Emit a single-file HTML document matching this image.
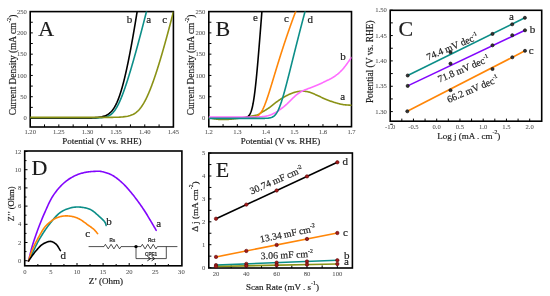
<!DOCTYPE html>
<html><head><meta charset="utf-8"><style>
html,body{margin:0;padding:0;background:#fff;}
body{width:550px;height:296px;overflow:hidden;}
svg{display:block;will-change:transform;font-family:"Liberation Serif", serif;}
</style></head><body>
<svg width="550" height="296" viewBox="0 0 550 296">
<rect width="550" height="296" fill="#fff"/>
<clipPath id="ca"><rect x="30.2" y="11.6" width="143.20000000000002" height="115.4"/></clipPath>
<rect x="30.2" y="11.6" width="143.20000000000002" height="115.4" fill="none" stroke="#000" stroke-width="1.6"/>
<line x1="44.52" y1="127.00" x2="44.52" y2="124.40" stroke="#000" stroke-width="1.0" stroke-linecap="butt"/>
<line x1="58.84" y1="127.00" x2="58.84" y2="124.40" stroke="#000" stroke-width="1.0" stroke-linecap="butt"/>
<line x1="73.16" y1="127.00" x2="73.16" y2="124.40" stroke="#000" stroke-width="1.0" stroke-linecap="butt"/>
<line x1="87.48" y1="127.00" x2="87.48" y2="124.40" stroke="#000" stroke-width="1.0" stroke-linecap="butt"/>
<line x1="101.80" y1="127.00" x2="101.80" y2="124.40" stroke="#000" stroke-width="1.0" stroke-linecap="butt"/>
<line x1="116.12" y1="127.00" x2="116.12" y2="124.40" stroke="#000" stroke-width="1.0" stroke-linecap="butt"/>
<line x1="130.44" y1="127.00" x2="130.44" y2="124.40" stroke="#000" stroke-width="1.0" stroke-linecap="butt"/>
<line x1="144.76" y1="127.00" x2="144.76" y2="124.40" stroke="#000" stroke-width="1.0" stroke-linecap="butt"/>
<line x1="159.08" y1="127.00" x2="159.08" y2="124.40" stroke="#000" stroke-width="1.0" stroke-linecap="butt"/>
<line x1="30.20" y1="118.00" x2="32.80" y2="118.00" stroke="#000" stroke-width="1.0" stroke-linecap="butt"/>
<line x1="30.20" y1="107.36" x2="32.80" y2="107.36" stroke="#000" stroke-width="1.0" stroke-linecap="butt"/>
<line x1="30.20" y1="96.72" x2="32.80" y2="96.72" stroke="#000" stroke-width="1.0" stroke-linecap="butt"/>
<line x1="30.20" y1="86.08" x2="32.80" y2="86.08" stroke="#000" stroke-width="1.0" stroke-linecap="butt"/>
<line x1="30.20" y1="75.44" x2="32.80" y2="75.44" stroke="#000" stroke-width="1.0" stroke-linecap="butt"/>
<line x1="30.20" y1="64.80" x2="32.80" y2="64.80" stroke="#000" stroke-width="1.0" stroke-linecap="butt"/>
<line x1="30.20" y1="54.16" x2="32.80" y2="54.16" stroke="#000" stroke-width="1.0" stroke-linecap="butt"/>
<line x1="30.20" y1="43.52" x2="32.80" y2="43.52" stroke="#000" stroke-width="1.0" stroke-linecap="butt"/>
<line x1="30.20" y1="32.88" x2="32.80" y2="32.88" stroke="#000" stroke-width="1.0" stroke-linecap="butt"/>
<line x1="30.20" y1="22.24" x2="32.80" y2="22.24" stroke="#000" stroke-width="1.0" stroke-linecap="butt"/>
<text x="30.20" y="134.20" font-size="6.6" text-anchor="middle" fill="#505050" stroke="#505050" stroke-width="0.05">1.20</text>
<text x="58.84" y="134.20" font-size="6.6" text-anchor="middle" fill="#505050" stroke="#505050" stroke-width="0.05">1.25</text>
<text x="87.48" y="134.20" font-size="6.6" text-anchor="middle" fill="#505050" stroke="#505050" stroke-width="0.05">1.30</text>
<text x="116.12" y="134.20" font-size="6.6" text-anchor="middle" fill="#505050" stroke="#505050" stroke-width="0.05">1.35</text>
<text x="144.76" y="134.20" font-size="6.6" text-anchor="middle" fill="#505050" stroke="#505050" stroke-width="0.05">1.40</text>
<text x="173.40" y="134.20" font-size="6.6" text-anchor="middle" fill="#505050" stroke="#505050" stroke-width="0.05">1.45</text>
<text x="26.80" y="120.10" font-size="6.6" text-anchor="end" fill="#505050" stroke="#505050" stroke-width="0.05">0</text>
<text x="26.80" y="98.82" font-size="6.6" text-anchor="end" fill="#505050" stroke="#505050" stroke-width="0.05">50</text>
<text x="26.80" y="77.54" font-size="6.6" text-anchor="end" fill="#505050" stroke="#505050" stroke-width="0.05">100</text>
<text x="26.80" y="56.26" font-size="6.6" text-anchor="end" fill="#505050" stroke="#505050" stroke-width="0.05">150</text>
<text x="26.80" y="34.98" font-size="6.6" text-anchor="end" fill="#505050" stroke="#505050" stroke-width="0.05">200</text>
<text x="26.80" y="13.70" font-size="6.6" text-anchor="end" fill="#505050" stroke="#505050" stroke-width="0.05">250</text>
<text x="101.80" y="143.70" font-size="9" text-anchor="middle" fill="#1c1c1c" stroke="#1c1c1c" stroke-width="0.18">Potential (V vs. RHE)</text>
<text transform="translate(15.50,65.00) rotate(-90)" font-size="9.35" text-anchor="middle" fill="#1c1c1c" stroke="#1c1c1c" stroke-width="0.18">Current Density (mA cm<tspan dy="-5.0" font-size="5.8">-2</tspan><tspan dy="5.0">)</tspan></text>
<text x="38.20" y="35.90" font-size="22" text-anchor="start" fill="#1c1c1c" stroke="#1c1c1c" stroke-width="0.18">A</text>
<path d="M28.20,118.00 L61.29,118.00 L62.35,118.00 L63.41,118.00 L64.47,118.00 L65.53,118.00 L66.60,118.00 L67.66,118.00 L68.72,118.00 L69.78,118.00 L70.84,118.00 L71.90,118.00 L72.97,118.00 L74.03,118.00 L75.09,118.00 L76.15,118.00 L77.21,118.00 L78.27,118.00 L79.34,118.00 L80.40,118.00 L81.46,118.00 L82.52,118.00 L83.58,118.00 L84.65,118.00 L85.71,117.99 L86.77,117.99 L87.83,117.99 L88.89,117.99 L89.96,117.98 L91.02,117.98 L92.08,117.97 L93.15,117.96 L94.21,117.95 L95.28,117.93 L96.34,117.91 L97.41,117.88 L98.48,117.84 L99.56,117.78 L100.63,117.71 L101.72,117.62 L102.80,117.50 L106.25,116.82 L108.14,116.14 L109.48,115.45 L110.54,114.77 L111.42,114.09 L112.19,113.41 L112.87,112.72 L113.48,112.04 L114.04,111.36 L114.57,110.68 L115.06,109.99 L115.52,109.31 L115.96,108.63 L116.38,107.95 L116.78,107.26 L117.16,106.58 L117.53,105.90 L117.89,105.22 L118.24,104.53 L118.58,103.85 L118.91,103.17 L119.23,102.49 L119.54,101.81 L119.85,101.12 L120.15,100.44 L120.45,99.76 L120.74,99.08 L121.02,98.39 L121.30,97.71 L121.58,97.03 L121.85,96.35 L122.12,95.66 L122.38,94.98 L122.64,94.30 L122.90,93.62 L123.15,92.93 L123.41,92.25 L123.66,91.57 L123.90,90.89 L124.15,90.20 L124.39,89.52 L124.63,88.84 L124.87,88.16 L125.10,87.47 L125.34,86.79 L125.57,86.11 L125.80,85.43 L126.03,84.75 L126.25,84.06 L126.48,83.38 L126.70,82.70 L126.92,82.02 L127.15,81.33 L127.37,80.65 L127.58,79.97 L127.80,79.29 L128.02,78.60 L128.23,77.92 L128.45,77.24 L128.66,76.56 L128.87,75.87 L129.08,75.19 L129.29,74.51 L129.50,73.83 L129.71,73.14 L129.91,72.46 L130.12,71.78 L130.33,71.10 L130.53,70.42 L130.73,69.73 L130.94,69.05 L131.14,68.37 L131.34,67.69 L131.54,67.00 L131.74,66.32 L131.94,65.64 L132.14,64.96 L132.34,64.27 L132.53,63.59 L132.73,62.91 L132.93,62.23 L133.12,61.54 L133.32,60.86 L133.51,60.18 L133.71,59.50 L133.90,58.81 L134.09,58.13 L134.29,57.45 L134.48,56.77 L134.67,56.08 L134.86,55.40 L135.05,54.72 L135.24,54.04 L135.43,53.36 L135.62,52.67 L135.81,51.99 L136.00,51.31 L136.19,50.63 L136.37,49.94 L136.56,49.26 L136.75,48.58 L136.93,47.90 L137.12,47.21 L137.31,46.53 L137.49,45.85 L137.68,45.17 L137.86,44.48 L138.05,43.80 L138.23,43.12 L138.42,42.44 L138.60,41.75 L138.78,41.07 L138.96,40.39 L139.15,39.71 L139.33,39.03 L139.51,38.34 L139.69,37.66 L139.88,36.98 L140.06,36.30 L140.24,35.61 L140.42,34.93 L140.60,34.25 L140.78,33.57 L140.96,32.88 L141.14,32.20 L141.32,31.52 L141.50,30.84 L141.68,30.15 L141.86,29.47 L142.03,28.79 L142.21,28.11 L142.39,27.42 L142.57,26.74 L142.75,26.06 L142.92,25.38 L143.10,24.69 L143.28,24.01 L143.45,23.33 L143.63,22.65 L143.81,21.97 L143.98,21.28 L144.16,20.60 L144.34,19.92 L144.51,19.24 L144.69,18.55 L144.86,17.87 L145.04,17.19 L145.21,16.51 L145.39,15.82 L145.56,15.14 L145.74,14.46 L145.91,13.78 L146.08,13.09 L146.26,12.41 L146.43,11.73 L146.61,11.05 L146.78,10.36 L146.95,9.68 L147.13,9.00" fill="none" stroke="#0c8e88" stroke-width="1.6" stroke-linejoin="round" clip-path="url(#ca)"/>
<path d="M28.20,118.00 L40.57,118.00 L42.02,118.00 L43.47,118.00 L44.93,118.00 L46.38,118.00 L47.83,118.00 L49.28,118.00 L50.73,118.00 L52.19,118.00 L53.64,118.00 L55.09,118.00 L56.54,118.00 L57.99,118.00 L59.45,118.00 L60.90,118.00 L62.35,118.00 L63.80,118.00 L65.25,118.00 L66.71,118.00 L68.16,118.00 L69.61,118.00 L71.06,118.00 L72.51,118.00 L73.97,117.99 L75.42,117.99 L76.87,117.99 L78.32,117.99 L79.78,117.98 L81.23,117.98 L82.68,117.97 L84.13,117.96 L85.59,117.95 L87.04,117.93 L88.50,117.91 L89.95,117.88 L91.41,117.84 L92.86,117.78 L94.32,117.71 L95.79,117.62 L97.25,117.50 L101.83,116.82 L104.29,116.14 L106.00,115.45 L107.32,114.77 L108.40,114.09 L109.32,113.41 L110.12,112.72 L110.83,112.04 L111.47,111.36 L112.06,110.68 L112.61,109.99 L113.11,109.31 L113.58,108.63 L114.03,107.95 L114.45,107.26 L114.84,106.58 L115.22,105.90 L115.59,105.22 L115.94,104.53 L116.27,103.85 L116.59,103.17 L116.91,102.49 L117.21,101.81 L117.50,101.12 L117.78,100.44 L118.06,99.76 L118.33,99.08 L118.59,98.39 L118.84,97.71 L119.09,97.03 L119.34,96.35 L119.58,95.66 L119.81,94.98 L120.04,94.30 L120.26,93.62 L120.48,92.93 L120.70,92.25 L120.91,91.57 L121.12,90.89 L121.33,90.20 L121.53,89.52 L121.73,88.84 L121.93,88.16 L122.13,87.47 L122.32,86.79 L122.51,86.11 L122.69,85.43 L122.88,84.75 L123.06,84.06 L123.24,83.38 L123.42,82.70 L123.60,82.02 L123.77,81.33 L123.94,80.65 L124.11,79.97 L124.28,79.29 L124.45,78.60 L124.62,77.92 L124.78,77.24 L124.95,76.56 L125.11,75.87 L125.27,75.19 L125.43,74.51 L125.58,73.83 L125.74,73.14 L125.90,72.46 L126.05,71.78 L126.20,71.10 L126.35,70.42 L126.51,69.73 L126.66,69.05 L126.80,68.37 L126.95,67.69 L127.10,67.00 L127.24,66.32 L127.39,65.64 L127.53,64.96 L127.68,64.27 L127.82,63.59 L127.96,62.91 L128.10,62.23 L128.24,61.54 L128.38,60.86 L128.52,60.18 L128.66,59.50 L128.79,58.81 L128.93,58.13 L129.06,57.45 L129.20,56.77 L129.33,56.08 L129.47,55.40 L129.60,54.72 L129.73,54.04 L129.86,53.36 L130.00,52.67 L130.13,51.99 L130.26,51.31 L130.39,50.63 L130.51,49.94 L130.64,49.26 L130.77,48.58 L130.90,47.90 L131.03,47.21 L131.15,46.53 L131.28,45.85 L131.40,45.17 L131.53,44.48 L131.65,43.80 L131.78,43.12 L131.90,42.44 L132.02,41.75 L132.15,41.07 L132.27,40.39 L132.39,39.71 L132.51,39.03 L132.63,38.34 L132.76,37.66 L132.88,36.98 L133.00,36.30 L133.12,35.61 L133.23,34.93 L133.35,34.25 L133.47,33.57 L133.59,32.88 L133.71,32.20 L133.83,31.52 L133.94,30.84 L134.06,30.15 L134.18,29.47 L134.29,28.79 L134.41,28.11 L134.53,27.42 L134.64,26.74 L134.76,26.06 L134.87,25.38 L134.99,24.69 L135.10,24.01 L135.22,23.33 L135.33,22.65 L135.44,21.97 L135.56,21.28 L135.67,20.60 L135.78,19.92 L135.89,19.24 L136.01,18.55 L136.12,17.87 L136.23,17.19 L136.34,16.51 L136.45,15.82 L136.56,15.14 L136.67,14.46 L136.79,13.78 L136.90,13.09 L137.01,12.41 L137.12,11.73 L137.23,11.05 L137.34,10.36 L137.44,9.68 L137.55,9.00" fill="none" stroke="#000" stroke-width="1.6" stroke-linejoin="round" clip-path="url(#ca)"/>
<path d="M28.20,117.40 L64.89,117.40 L66.38,117.40 L67.87,117.40 L69.35,117.40 L70.84,117.40 L72.32,117.40 L73.81,117.40 L75.30,117.40 L76.78,117.40 L78.27,117.40 L79.75,117.40 L81.24,117.40 L82.73,117.40 L84.21,117.40 L85.70,117.40 L87.18,117.40 L88.67,117.40 L90.16,117.40 L91.64,117.40 L93.13,117.40 L94.61,117.40 L96.10,117.40 L97.59,117.40 L99.07,117.39 L100.56,117.39 L102.05,117.39 L103.53,117.39 L105.02,117.38 L106.51,117.38 L107.99,117.37 L109.48,117.36 L110.97,117.35 L112.46,117.33 L113.95,117.31 L115.44,117.28 L116.94,117.24 L118.44,117.18 L119.94,117.11 L121.44,117.02 L122.95,116.90 L127.69,116.22 L130.26,115.54 L132.07,114.86 L133.48,114.19 L134.65,113.51 L135.65,112.83 L136.53,112.15 L137.32,111.47 L138.05,110.79 L138.71,110.11 L139.33,109.44 L139.91,108.76 L140.45,108.08 L140.97,107.40 L141.46,106.72 L141.93,106.04 L142.38,105.36 L142.82,104.68 L143.24,104.01 L143.64,103.33 L144.04,102.65 L144.42,101.97 L144.79,101.29 L145.15,100.61 L145.50,99.93 L145.85,99.26 L146.19,98.58 L146.52,97.90 L146.84,97.22 L147.16,96.54 L147.47,95.86 L147.78,95.18 L148.08,94.51 L148.38,93.83 L148.67,93.15 L148.96,92.47 L149.24,91.79 L149.52,91.11 L149.80,90.43 L150.08,89.76 L150.35,89.08 L150.61,88.40 L150.88,87.72 L151.14,87.04 L151.40,86.36 L151.66,85.68 L151.91,85.01 L152.16,84.33 L152.41,83.65 L152.66,82.97 L152.90,82.29 L153.15,81.61 L153.39,80.93 L153.63,80.25 L153.87,79.58 L154.10,78.90 L154.34,78.22 L154.57,77.54 L154.80,76.86 L155.03,76.18 L155.26,75.50 L155.49,74.83 L155.71,74.15 L155.94,73.47 L156.16,72.79 L156.38,72.11 L156.60,71.43 L156.82,70.75 L157.04,70.08 L157.25,69.40 L157.47,68.72 L157.69,68.04 L157.90,67.36 L158.11,66.68 L158.32,66.00 L158.54,65.33 L158.75,64.65 L158.95,63.97 L159.16,63.29 L159.37,62.61 L159.58,61.93 L159.78,61.25 L159.99,60.57 L160.19,59.90 L160.40,59.22 L160.60,58.54 L160.80,57.86 L161.00,57.18 L161.20,56.50 L161.40,55.82 L161.60,55.15 L161.80,54.47 L162.00,53.79 L162.20,53.11 L162.39,52.43 L162.59,51.75 L162.79,51.07 L162.98,50.40 L163.18,49.72 L163.37,49.04 L163.56,48.36 L163.76,47.68 L163.95,47.00 L164.14,46.32 L164.33,45.65 L164.53,44.97 L164.72,44.29 L164.91,43.61 L165.10,42.93 L165.29,42.25 L165.47,41.57 L165.66,40.89 L165.85,40.22 L166.04,39.54 L166.23,38.86 L166.41,38.18 L166.60,37.50 L166.79,36.82 L166.97,36.14 L167.16,35.47 L167.34,34.79 L167.53,34.11 L167.71,33.43 L167.89,32.75 L168.08,32.07 L168.26,31.39 L168.44,30.72 L168.63,30.04 L168.81,29.36 L168.99,28.68 L169.17,28.00 L169.35,27.32 L169.53,26.64 L169.72,25.97 L169.90,25.29 L170.08,24.61 L170.26,23.93 L170.44,23.25 L170.61,22.57 L170.79,21.89 L170.97,21.22 L171.15,20.54 L171.33,19.86 L171.51,19.18 L171.68,18.50 L171.86,17.82 L172.04,17.14 L172.22,16.46 L172.39,15.79 L172.57,15.11 L172.74,14.43 L172.92,13.75 L173.10,13.07 L173.27,12.39 L173.45,11.71 L173.62,11.04 L173.80,10.36 L173.97,9.68 L174.15,9.00" fill="none" stroke="#8a9216" stroke-width="1.6" stroke-linejoin="round" clip-path="url(#ca)"/>
<text x="126.80" y="22.90" font-size="11" text-anchor="start" fill="#1c1c1c" stroke="#1c1c1c" stroke-width="0.18">b</text>
<text x="146.30" y="23.20" font-size="11" text-anchor="start" fill="#1c1c1c" stroke="#1c1c1c" stroke-width="0.18">a</text>
<text x="162.30" y="23.20" font-size="11" text-anchor="start" fill="#1c1c1c" stroke="#1c1c1c" stroke-width="0.18">c</text>
<clipPath id="cb"><rect x="208.8" y="11.6" width="142.7" height="115.10000000000001"/></clipPath>
<rect x="208.8" y="11.6" width="142.7" height="115.10000000000001" fill="none" stroke="#000" stroke-width="1.6"/>
<line x1="223.07" y1="126.70" x2="223.07" y2="124.10" stroke="#000" stroke-width="1.0" stroke-linecap="butt"/>
<line x1="237.34" y1="126.70" x2="237.34" y2="124.10" stroke="#000" stroke-width="1.0" stroke-linecap="butt"/>
<line x1="251.61" y1="126.70" x2="251.61" y2="124.10" stroke="#000" stroke-width="1.0" stroke-linecap="butt"/>
<line x1="265.88" y1="126.70" x2="265.88" y2="124.10" stroke="#000" stroke-width="1.0" stroke-linecap="butt"/>
<line x1="280.15" y1="126.70" x2="280.15" y2="124.10" stroke="#000" stroke-width="1.0" stroke-linecap="butt"/>
<line x1="294.42" y1="126.70" x2="294.42" y2="124.10" stroke="#000" stroke-width="1.0" stroke-linecap="butt"/>
<line x1="308.69" y1="126.70" x2="308.69" y2="124.10" stroke="#000" stroke-width="1.0" stroke-linecap="butt"/>
<line x1="322.96" y1="126.70" x2="322.96" y2="124.10" stroke="#000" stroke-width="1.0" stroke-linecap="butt"/>
<line x1="337.23" y1="126.70" x2="337.23" y2="124.10" stroke="#000" stroke-width="1.0" stroke-linecap="butt"/>
<line x1="208.80" y1="118.00" x2="211.40" y2="118.00" stroke="#000" stroke-width="1.0" stroke-linecap="butt"/>
<line x1="208.80" y1="107.36" x2="211.40" y2="107.36" stroke="#000" stroke-width="1.0" stroke-linecap="butt"/>
<line x1="208.80" y1="96.72" x2="211.40" y2="96.72" stroke="#000" stroke-width="1.0" stroke-linecap="butt"/>
<line x1="208.80" y1="86.08" x2="211.40" y2="86.08" stroke="#000" stroke-width="1.0" stroke-linecap="butt"/>
<line x1="208.80" y1="75.44" x2="211.40" y2="75.44" stroke="#000" stroke-width="1.0" stroke-linecap="butt"/>
<line x1="208.80" y1="64.80" x2="211.40" y2="64.80" stroke="#000" stroke-width="1.0" stroke-linecap="butt"/>
<line x1="208.80" y1="54.16" x2="211.40" y2="54.16" stroke="#000" stroke-width="1.0" stroke-linecap="butt"/>
<line x1="208.80" y1="43.52" x2="211.40" y2="43.52" stroke="#000" stroke-width="1.0" stroke-linecap="butt"/>
<line x1="208.80" y1="32.88" x2="211.40" y2="32.88" stroke="#000" stroke-width="1.0" stroke-linecap="butt"/>
<line x1="208.80" y1="22.24" x2="211.40" y2="22.24" stroke="#000" stroke-width="1.0" stroke-linecap="butt"/>
<text x="208.80" y="134.20" font-size="6.6" text-anchor="middle" fill="#505050" stroke="#505050" stroke-width="0.05">1.2</text>
<text x="237.34" y="134.20" font-size="6.6" text-anchor="middle" fill="#505050" stroke="#505050" stroke-width="0.05">1.3</text>
<text x="265.88" y="134.20" font-size="6.6" text-anchor="middle" fill="#505050" stroke="#505050" stroke-width="0.05">1.4</text>
<text x="294.42" y="134.20" font-size="6.6" text-anchor="middle" fill="#505050" stroke="#505050" stroke-width="0.05">1.5</text>
<text x="322.96" y="134.20" font-size="6.6" text-anchor="middle" fill="#505050" stroke="#505050" stroke-width="0.05">1.6</text>
<text x="351.50" y="134.20" font-size="6.6" text-anchor="middle" fill="#505050" stroke="#505050" stroke-width="0.05">1.7</text>
<text x="205.40" y="120.10" font-size="6.6" text-anchor="end" fill="#505050" stroke="#505050" stroke-width="0.05">0</text>
<text x="205.40" y="98.82" font-size="6.6" text-anchor="end" fill="#505050" stroke="#505050" stroke-width="0.05">50</text>
<text x="205.40" y="77.54" font-size="6.6" text-anchor="end" fill="#505050" stroke="#505050" stroke-width="0.05">100</text>
<text x="205.40" y="56.26" font-size="6.6" text-anchor="end" fill="#505050" stroke="#505050" stroke-width="0.05">150</text>
<text x="205.40" y="34.98" font-size="6.6" text-anchor="end" fill="#505050" stroke="#505050" stroke-width="0.05">200</text>
<text x="205.40" y="13.70" font-size="6.6" text-anchor="end" fill="#505050" stroke="#505050" stroke-width="0.05">250</text>
<text x="280.50" y="143.70" font-size="9" text-anchor="middle" fill="#1c1c1c" stroke="#1c1c1c" stroke-width="0.18">Potential (V vs. RHE)</text>
<text transform="translate(194.30,65.00) rotate(-90)" font-size="9.35" text-anchor="middle" fill="#1c1c1c" stroke="#1c1c1c" stroke-width="0.18">Current Density (mA cm<tspan dy="-5.0" font-size="5.8">-2</tspan><tspan dy="5.0">)</tspan></text>
<text x="215.50" y="35.60" font-size="22" text-anchor="start" fill="#1c1c1c" stroke="#1c1c1c" stroke-width="0.18">B</text>
<path d="M208.80,117.60 L209.10,117.67 L209.39,117.75 L209.68,117.82 L209.97,117.89 L210.25,117.97 L210.54,118.04 L210.83,118.12 L211.12,118.19 L211.42,118.26 L211.72,118.33 L212.03,118.40 L212.34,118.47 L212.67,118.54 L213.00,118.60 L213.44,118.68 L213.90,118.76 L214.37,118.84 L214.85,118.92 L215.34,118.99 L215.85,119.07 L216.35,119.14 L216.87,119.20 L217.39,119.27 L217.91,119.33 L218.43,119.38 L218.96,119.43 L219.48,119.47 L220.00,119.50 L220.55,119.53 L221.11,119.55 L221.68,119.56 L222.25,119.57 L222.82,119.57 L223.39,119.57 L223.97,119.56 L224.54,119.55 L225.12,119.53 L225.70,119.51 L226.28,119.49 L226.85,119.46 L227.43,119.43 L228.00,119.40 L228.57,119.37 L229.15,119.32 L229.73,119.28 L230.30,119.23 L230.88,119.18 L231.46,119.12 L232.04,119.06 L232.61,119.00 L233.18,118.93 L233.76,118.87 L234.32,118.80 L234.89,118.73 L235.45,118.67 L236.00,118.60 L236.52,118.54 L237.03,118.47 L237.54,118.41 L238.04,118.34 L238.54,118.27 L239.04,118.20 L239.54,118.13 L240.04,118.06 L240.53,117.98 L241.03,117.91 L241.52,117.83 L242.01,117.76 L242.51,117.68 L243.00,117.60 L243.48,117.52 L243.96,117.44 L244.43,117.36 L244.91,117.28 L245.38,117.20 L245.85,117.12 L246.32,117.04 L246.79,116.95 L247.26,116.87 L247.74,116.78 L248.22,116.69 L248.71,116.59 L249.20,116.50 L249.70,116.40 L250.28,116.29 L250.89,116.17 L251.53,116.06 L252.18,115.94 L252.84,115.82 L253.51,115.70 L254.16,115.57 L254.81,115.44 L255.43,115.31 L256.03,115.18 L256.60,115.04 L257.12,114.90 L257.59,114.75 L258.00,114.60 L258.19,114.52 L258.36,114.45 L258.51,114.37 L258.65,114.30 L258.78,114.22 L258.90,114.14 L259.01,114.07 L259.13,113.99 L259.25,113.90 L259.37,113.81 L259.51,113.72 L259.65,113.62 L259.82,113.51 L260.00,113.40 L260.44,113.14 L260.93,112.84 L261.48,112.52 L262.07,112.17 L262.70,111.80 L263.35,111.42 L264.03,111.01 L264.73,110.59 L265.43,110.17 L266.13,109.74 L266.83,109.30 L267.51,108.86 L268.17,108.43 L268.80,108.00 L269.43,107.55 L270.06,107.09 L270.68,106.62 L271.30,106.14 L271.92,105.65 L272.54,105.15 L273.15,104.66 L273.77,104.16 L274.38,103.66 L275.00,103.17 L275.62,102.69 L276.24,102.21 L276.87,101.75 L277.50,101.30 L278.12,100.87 L278.74,100.45 L279.36,100.02 L279.98,99.60 L280.60,99.19 L281.23,98.78 L281.85,98.38 L282.48,97.98 L283.11,97.59 L283.75,97.21 L284.38,96.84 L285.02,96.48 L285.66,96.14 L286.30,95.80 L286.92,95.49 L287.54,95.18 L288.18,94.87 L288.81,94.58 L289.45,94.29 L290.09,94.01 L290.73,93.73 L291.37,93.47 L292.00,93.23 L292.63,92.99 L293.26,92.77 L293.88,92.56 L294.50,92.37 L295.10,92.20 L295.61,92.07 L296.12,91.94 L296.63,91.83 L297.13,91.72 L297.63,91.63 L298.12,91.55 L298.62,91.47 L299.11,91.41 L299.59,91.35 L300.08,91.31 L300.56,91.27 L301.04,91.24 L301.52,91.21 L302.00,91.20 L302.44,91.19 L302.87,91.19 L303.30,91.20 L303.72,91.21 L304.13,91.23 L304.55,91.26 L304.97,91.29 L305.38,91.33 L305.80,91.39 L306.23,91.45 L306.66,91.52 L307.10,91.60 L307.54,91.70 L308.00,91.80 L308.59,91.95 L309.20,92.13 L309.82,92.32 L310.45,92.54 L311.09,92.78 L311.74,93.02 L312.39,93.28 L313.04,93.55 L313.70,93.83 L314.35,94.10 L315.00,94.38 L315.64,94.66 L316.28,94.93 L316.90,95.20 L317.49,95.46 L318.08,95.72 L318.66,95.99 L319.24,96.27 L319.81,96.55 L320.38,96.83 L320.95,97.11 L321.52,97.39 L322.09,97.67 L322.66,97.95 L323.24,98.22 L323.82,98.49 L324.41,98.75 L325.00,99.00 L325.61,99.25 L326.23,99.50 L326.85,99.75 L327.48,99.99 L328.11,100.23 L328.75,100.47 L329.38,100.70 L330.01,100.93 L330.65,101.15 L331.28,101.37 L331.92,101.59 L332.55,101.80 L333.18,102.00 L333.80,102.20 L334.39,102.39 L334.97,102.57 L335.56,102.75 L336.13,102.93 L336.71,103.10 L337.29,103.27 L337.86,103.43 L338.44,103.59 L339.02,103.74 L339.61,103.89 L340.20,104.03 L340.79,104.16 L341.39,104.29 L342.00,104.40 L342.65,104.51 L343.31,104.61 L343.98,104.69 L344.65,104.76 L345.33,104.83 L346.01,104.89 L346.70,104.94 L347.39,104.99 L348.07,105.04 L348.76,105.09 L349.45,105.13 L350.14,105.18 L350.82,105.24 L351.50,105.30" fill="none" stroke="#8a9216" stroke-width="1.6" stroke-linejoin="round" stroke-linecap="round" clip-path="url(#cb)"/>
<path d="M206.80,118.20 L222.28,118.20 L222.87,118.20 L223.46,118.20 L224.05,118.20 L224.64,118.20 L225.23,118.20 L225.82,118.20 L226.41,118.20 L227.00,118.20 L227.59,118.20 L228.18,118.20 L228.77,118.20 L229.36,118.20 L229.95,118.20 L230.54,118.20 L231.13,118.20 L231.72,118.20 L232.31,118.20 L232.90,118.20 L233.49,118.20 L234.08,118.20 L234.67,118.20 L235.26,118.20 L235.85,118.19 L236.44,118.19 L237.04,118.19 L237.63,118.19 L238.22,118.18 L238.81,118.18 L239.40,118.17 L239.99,118.16 L240.58,118.15 L241.17,118.13 L241.76,118.11 L242.35,118.08 L242.94,118.04 L243.54,117.98 L244.13,117.91 L244.72,117.82 L245.32,117.70 L247.18,117.02 L248.17,116.33 L248.86,115.65 L249.40,114.97 L249.83,114.28 L250.20,113.60 L250.52,112.91 L250.81,112.23 L251.07,111.55 L251.30,110.86 L251.52,110.18 L251.72,109.50 L251.91,108.81 L252.09,108.13 L252.26,107.45 L252.42,106.76 L252.57,106.08 L252.71,105.39 L252.85,104.71 L252.99,104.03 L253.11,103.34 L253.24,102.66 L253.36,101.98 L253.48,101.29 L253.59,100.61 L253.70,99.93 L253.81,99.24 L253.91,98.56 L254.01,97.87 L254.11,97.19 L254.21,96.51 L254.31,95.82 L254.40,95.14 L254.49,94.46 L254.58,93.77 L254.67,93.09 L254.76,92.41 L254.84,91.72 L254.93,91.04 L255.01,90.35 L255.09,89.67 L255.17,88.99 L255.25,88.30 L255.33,87.62 L255.41,86.94 L255.48,86.25 L255.56,85.57 L255.64,84.88 L255.71,84.20 L255.78,83.52 L255.86,82.83 L255.93,82.15 L256.00,81.47 L256.07,80.78 L256.14,80.10 L256.21,79.42 L256.28,78.73 L256.35,78.05 L256.41,77.36 L256.48,76.68 L256.55,76.00 L256.61,75.31 L256.68,74.63 L256.74,73.95 L256.81,73.26 L256.87,72.58 L256.94,71.90 L257.00,71.21 L257.06,70.53 L257.13,69.84 L257.19,69.16 L257.25,68.48 L257.31,67.79 L257.38,67.11 L257.44,66.43 L257.50,65.74 L257.56,65.06 L257.62,64.38 L257.68,63.69 L257.74,63.01 L257.80,62.32 L257.86,61.64 L257.92,60.96 L257.98,60.27 L258.04,59.59 L258.09,58.91 L258.15,58.22 L258.21,57.54 L258.27,56.86 L258.33,56.17 L258.38,55.49 L258.44,54.80 L258.50,54.12 L258.56,53.44 L258.61,52.75 L258.67,52.07 L258.73,51.39 L258.78,50.70 L258.84,50.02 L258.90,49.34 L258.95,48.65 L259.01,47.97 L259.07,47.28 L259.12,46.60 L259.18,45.92 L259.23,45.23 L259.29,44.55 L259.34,43.87 L259.40,43.18 L259.45,42.50 L259.51,41.82 L259.56,41.13 L259.62,40.45 L259.67,39.76 L259.73,39.08 L259.78,38.40 L259.84,37.71 L259.89,37.03 L259.95,36.35 L260.00,35.66 L260.06,34.98 L260.11,34.29 L260.17,33.61 L260.22,32.93 L260.27,32.24 L260.33,31.56 L260.38,30.88 L260.44,30.19 L260.49,29.51 L260.54,28.83 L260.60,28.14 L260.65,27.46 L260.71,26.77 L260.76,26.09 L260.81,25.41 L260.87,24.72 L260.92,24.04 L260.98,23.36 L261.03,22.67 L261.08,21.99 L261.14,21.31 L261.19,20.62 L261.24,19.94 L261.30,19.25 L261.35,18.57 L261.40,17.89 L261.46,17.20 L261.51,16.52 L261.56,15.84 L261.62,15.15 L261.67,14.47 L261.72,13.79 L261.78,13.10 L261.83,12.42 L261.89,11.73 L261.94,11.05 L261.99,10.37 L262.05,9.68 L262.10,9.00" fill="none" stroke="#000" stroke-width="1.6" stroke-linejoin="round" clip-path="url(#cb)"/>
<path d="M206.80,118.20 L220.86,118.20 L221.68,118.20 L222.50,118.20 L223.32,118.20 L224.14,118.20 L224.96,118.20 L225.78,118.20 L226.60,118.20 L227.42,118.20 L228.24,118.20 L229.06,118.20 L229.88,118.20 L230.70,118.20 L231.52,118.20 L232.34,118.20 L233.16,118.20 L233.98,118.20 L234.80,118.20 L235.62,118.20 L236.44,118.20 L237.26,118.20 L238.08,118.20 L238.90,118.20 L239.72,118.19 L240.54,118.19 L241.36,118.19 L242.18,118.19 L243.00,118.18 L243.82,118.18 L244.65,118.17 L245.47,118.16 L246.29,118.15 L247.11,118.13 L247.94,118.11 L248.76,118.08 L249.59,118.04 L250.41,117.98 L251.25,117.91 L252.08,117.82 L252.92,117.70 L255.57,117.02 L257.03,116.33 L258.06,115.65 L258.87,114.97 L259.55,114.28 L260.14,113.60 L260.66,112.91 L261.13,112.23 L261.57,111.55 L261.97,110.86 L262.35,110.18 L262.71,109.50 L263.05,108.81 L263.38,108.13 L263.69,107.45 L263.99,106.76 L264.29,106.08 L264.57,105.39 L264.85,104.71 L265.12,104.03 L265.38,103.34 L265.64,102.66 L265.89,101.98 L266.14,101.29 L266.39,100.61 L266.63,99.93 L266.87,99.24 L267.10,98.56 L267.33,97.87 L267.56,97.19 L267.79,96.51 L268.02,95.82 L268.24,95.14 L268.46,94.46 L268.68,93.77 L268.90,93.09 L269.12,92.41 L269.34,91.72 L269.55,91.04 L269.77,90.35 L269.98,89.67 L270.19,88.99 L270.40,88.30 L270.61,87.62 L270.82,86.94 L271.03,86.25 L271.24,85.57 L271.45,84.88 L271.66,84.20 L271.87,83.52 L272.08,82.83 L272.28,82.15 L272.49,81.47 L272.70,80.78 L272.90,80.10 L273.11,79.42 L273.32,78.73 L273.52,78.05 L273.73,77.36 L273.94,76.68 L274.14,76.00 L274.35,75.31 L274.56,74.63 L274.77,73.95 L274.97,73.26 L275.18,72.58 L275.39,71.90 L275.60,71.21 L275.80,70.53 L276.01,69.84 L276.22,69.16 L276.43,68.48 L276.64,67.79 L276.85,67.11 L277.06,66.43 L277.27,65.74 L277.48,65.06 L277.69,64.38 L277.90,63.69 L278.11,63.01 L278.32,62.32 L278.53,61.64 L278.75,60.96 L278.96,60.27 L279.17,59.59 L279.39,58.91 L279.60,58.22 L279.82,57.54 L280.03,56.86 L280.25,56.17 L280.46,55.49 L280.68,54.80 L280.90,54.12 L281.12,53.44 L281.33,52.75 L281.55,52.07 L281.77,51.39 L281.99,50.70 L282.21,50.02 L282.43,49.34 L282.66,48.65 L282.88,47.97 L283.10,47.28 L283.32,46.60 L283.55,45.92 L283.77,45.23 L284.00,44.55 L284.22,43.87 L284.45,43.18 L284.68,42.50 L284.90,41.82 L285.13,41.13 L285.36,40.45 L285.59,39.76 L285.82,39.08 L286.05,38.40 L286.28,37.71 L286.51,37.03 L286.74,36.35 L286.98,35.66 L287.21,34.98 L287.45,34.29 L287.68,33.61 L287.92,32.93 L288.15,32.24 L288.39,31.56 L288.63,30.88 L288.87,30.19 L289.10,29.51 L289.34,28.83 L289.58,28.14 L289.83,27.46 L290.07,26.77 L290.31,26.09 L290.55,25.41 L290.80,24.72 L291.04,24.04 L291.29,23.36 L291.53,22.67 L291.78,21.99 L292.02,21.31 L292.27,20.62 L292.52,19.94 L292.77,19.25 L293.02,18.57 L293.27,17.89 L293.52,17.20 L293.78,16.52 L294.03,15.84 L294.28,15.15 L294.54,14.47 L294.79,13.79 L295.05,13.10 L295.30,12.42 L295.56,11.73 L295.82,11.05 L296.08,10.37 L296.34,9.68 L296.60,9.00" fill="none" stroke="#ff8608" stroke-width="1.6" stroke-linejoin="round" clip-path="url(#cb)"/>
<path d="M208.80,117.10 L211.80,117.10 L214.90,117.11 L218.08,117.12 L221.30,117.13 L224.54,117.14 L227.77,117.15 L230.96,117.16 L234.09,117.17 L237.13,117.17 L240.05,117.17 L242.82,117.16 L245.42,117.15 L247.83,117.13 L250.00,117.10 L251.07,117.08 L252.09,117.07 L253.06,117.05 L253.99,117.04 L254.88,117.03 L255.73,117.01 L256.56,116.99 L257.35,116.97 L258.13,116.94 L258.88,116.91 L259.62,116.87 L260.35,116.82 L261.08,116.77 L261.80,116.70 L262.34,116.65 L262.87,116.59 L263.38,116.53 L263.88,116.48 L264.37,116.42 L264.85,116.35 L265.32,116.28 L265.79,116.21 L266.25,116.12 L266.70,116.04 L267.16,115.94 L267.60,115.84 L268.05,115.72 L268.50,115.60 L268.92,115.48 L269.33,115.35 L269.73,115.21 L270.13,115.06 L270.52,114.91 L270.91,114.76 L271.30,114.59 L271.68,114.42 L272.07,114.25 L272.45,114.07 L272.83,113.88 L273.22,113.69 L273.61,113.50 L274.00,113.30 L274.43,113.08 L274.86,112.85 L275.29,112.61 L275.72,112.36 L276.15,112.11 L276.58,111.85 L277.00,111.59 L277.43,111.32 L277.86,111.04 L278.29,110.76 L278.72,110.48 L279.15,110.19 L279.57,109.90 L280.00,109.60 L280.46,109.28 L280.91,108.95 L281.37,108.61 L281.83,108.26 L282.29,107.91 L282.75,107.55 L283.21,107.19 L283.67,106.83 L284.12,106.46 L284.57,106.09 L285.01,105.72 L285.45,105.34 L285.88,104.97 L286.30,104.60 L286.70,104.25 L287.08,103.89 L287.46,103.53 L287.84,103.16 L288.21,102.80 L288.58,102.43 L288.94,102.06 L289.30,101.69 L289.67,101.32 L290.03,100.95 L290.39,100.59 L290.76,100.22 L291.13,99.86 L291.50,99.50 L291.87,99.14 L292.25,98.78 L292.62,98.42 L293.00,98.05 L293.37,97.68 L293.75,97.32 L294.12,96.96 L294.50,96.60 L294.88,96.25 L295.26,95.90 L295.64,95.56 L296.03,95.23 L296.41,94.91 L296.80,94.60 L297.16,94.32 L297.52,94.05 L297.88,93.78 L298.24,93.52 L298.60,93.27 L298.97,93.02 L299.33,92.78 L299.70,92.54 L300.07,92.30 L300.45,92.07 L300.83,91.85 L301.21,91.63 L301.60,91.41 L302.00,91.20 L302.42,90.98 L302.85,90.78 L303.27,90.58 L303.71,90.39 L304.14,90.21 L304.59,90.03 L305.03,89.85 L305.48,89.68 L305.94,89.50 L306.40,89.33 L306.87,89.15 L307.34,88.97 L307.82,88.79 L308.30,88.60 L308.87,88.37 L309.46,88.15 L310.06,87.92 L310.67,87.70 L311.29,87.47 L311.91,87.24 L312.54,87.00 L313.17,86.77 L313.80,86.53 L314.43,86.29 L315.06,86.05 L315.68,85.80 L316.29,85.55 L316.90,85.30 L317.49,85.05 L318.07,84.79 L318.66,84.53 L319.23,84.27 L319.81,84.01 L320.38,83.74 L320.96,83.47 L321.53,83.20 L322.10,82.92 L322.68,82.64 L323.25,82.36 L323.83,82.08 L324.41,81.79 L325.00,81.50 L325.62,81.20 L326.25,80.89 L326.88,80.59 L327.52,80.29 L328.16,79.98 L328.80,79.68 L329.44,79.36 L330.08,79.04 L330.71,78.72 L331.34,78.38 L331.97,78.03 L332.59,77.67 L333.20,77.29 L333.80,76.90 L334.42,76.48 L335.02,76.05 L335.63,75.62 L336.22,75.18 L336.81,74.72 L337.40,74.26 L337.98,73.78 L338.56,73.29 L339.13,72.78 L339.71,72.26 L340.28,71.72 L340.85,71.17 L341.43,70.59 L342.00,70.00 L342.69,69.25 L343.38,68.45 L344.07,67.62 L344.75,66.76 L345.43,65.87 L346.10,64.96 L346.78,64.03 L347.45,63.10 L348.13,62.15 L348.80,61.20 L349.47,60.26 L350.15,59.33 L350.82,58.40 L351.50,57.50" fill="none" stroke="#ff6cff" stroke-width="1.6" stroke-linejoin="round" stroke-linecap="round" clip-path="url(#cb)"/>
<path d="M206.80,118.40 L241.90,118.40 L242.61,118.40 L243.33,118.40 L244.04,118.40 L244.75,118.40 L245.46,118.40 L246.17,118.40 L246.89,118.40 L247.60,118.40 L248.31,118.40 L249.02,118.40 L249.73,118.40 L250.44,118.40 L251.16,118.40 L251.87,118.40 L252.58,118.40 L253.29,118.40 L254.00,118.40 L254.72,118.40 L255.43,118.40 L256.14,118.40 L256.85,118.40 L257.56,118.40 L258.28,118.39 L258.99,118.39 L259.70,118.39 L260.41,118.39 L261.12,118.38 L261.84,118.38 L262.55,118.37 L263.26,118.36 L263.98,118.35 L264.69,118.33 L265.41,118.31 L266.12,118.28 L266.84,118.24 L267.56,118.18 L268.29,118.11 L269.01,118.02 L269.74,117.90 L272.07,117.22 L273.35,116.53 L274.26,115.85 L274.98,115.16 L275.59,114.48 L276.11,113.79 L276.58,113.11 L277.00,112.42 L277.39,111.74 L277.76,111.05 L278.10,110.37 L278.43,109.68 L278.73,109.00 L279.03,108.31 L279.31,107.63 L279.59,106.94 L279.85,106.26 L280.11,105.57 L280.36,104.89 L280.60,104.20 L280.84,103.52 L281.08,102.83 L281.31,102.15 L281.53,101.46 L281.75,100.78 L281.97,100.09 L282.18,99.41 L282.39,98.72 L282.60,98.04 L282.81,97.35 L283.01,96.67 L283.21,95.98 L283.41,95.30 L283.61,94.61 L283.80,93.93 L284.00,93.24 L284.19,92.56 L284.38,91.87 L284.57,91.19 L284.76,90.50 L284.95,89.82 L285.13,89.13 L285.32,88.45 L285.50,87.76 L285.69,87.08 L285.87,86.39 L286.05,85.71 L286.23,85.02 L286.41,84.34 L286.59,83.65 L286.77,82.97 L286.95,82.28 L287.12,81.60 L287.30,80.92 L287.48,80.23 L287.65,79.55 L287.83,78.86 L288.00,78.18 L288.18,77.49 L288.35,76.81 L288.53,76.12 L288.70,75.44 L288.88,74.75 L289.05,74.07 L289.22,73.38 L289.40,72.70 L289.57,72.01 L289.74,71.33 L289.91,70.64 L290.09,69.96 L290.26,69.27 L290.43,68.59 L290.60,67.90 L290.77,67.22 L290.94,66.53 L291.12,65.85 L291.29,65.16 L291.46,64.48 L291.63,63.79 L291.80,63.11 L291.97,62.42 L292.14,61.74 L292.32,61.05 L292.49,60.37 L292.66,59.68 L292.83,59.00 L293.00,58.31 L293.17,57.63 L293.34,56.94 L293.51,56.26 L293.69,55.57 L293.86,54.89 L294.03,54.20 L294.20,53.52 L294.37,52.83 L294.54,52.15 L294.72,51.46 L294.89,50.78 L295.06,50.09 L295.23,49.41 L295.41,48.72 L295.58,48.04 L295.75,47.35 L295.92,46.67 L296.10,45.98 L296.27,45.30 L296.44,44.62 L296.62,43.93 L296.79,43.25 L296.96,42.56 L297.14,41.88 L297.31,41.19 L297.49,40.51 L297.66,39.82 L297.83,39.14 L298.01,38.45 L298.18,37.77 L298.36,37.08 L298.53,36.40 L298.71,35.71 L298.89,35.03 L299.06,34.34 L299.24,33.66 L299.41,32.97 L299.59,32.29 L299.77,31.60 L299.94,30.92 L300.12,30.23 L300.30,29.55 L300.48,28.86 L300.65,28.18 L300.83,27.49 L301.01,26.81 L301.19,26.12 L301.37,25.44 L301.54,24.75 L301.72,24.07 L301.90,23.38 L302.08,22.70 L302.26,22.01 L302.44,21.33 L302.62,20.64 L302.80,19.96 L302.98,19.27 L303.16,18.59 L303.35,17.90 L303.53,17.22 L303.71,16.53 L303.89,15.85 L304.07,15.16 L304.26,14.48 L304.44,13.79 L304.62,13.11 L304.80,12.42 L304.99,11.74 L305.17,11.05 L305.36,10.37 L305.54,9.68 L305.72,9.00" fill="none" stroke="#0c8e88" stroke-width="1.6" stroke-linejoin="round" clip-path="url(#cb)"/>
<text x="253.10" y="21.20" font-size="11" text-anchor="start" fill="#1c1c1c" stroke="#1c1c1c" stroke-width="0.18">e</text>
<text x="284.00" y="22.20" font-size="11" text-anchor="start" fill="#1c1c1c" stroke="#1c1c1c" stroke-width="0.18">c</text>
<text x="307.60" y="23.00" font-size="11" text-anchor="start" fill="#1c1c1c" stroke="#1c1c1c" stroke-width="0.18">d</text>
<text x="340.30" y="60.30" font-size="11" text-anchor="start" fill="#1c1c1c" stroke="#1c1c1c" stroke-width="0.18">b</text>
<text x="340.30" y="100.20" font-size="11" text-anchor="start" fill="#1c1c1c" stroke="#1c1c1c" stroke-width="0.18">a</text>
<clipPath id="cc"><rect x="390.2" y="10.3" width="151.50000000000006" height="110.9"/></clipPath>
<rect x="390.2" y="10.3" width="151.50000000000006" height="110.9" fill="none" stroke="#000" stroke-width="1.6"/>
<line x1="401.82" y1="121.20" x2="401.82" y2="118.60" stroke="#000" stroke-width="1.0" stroke-linecap="butt"/>
<line x1="413.45" y1="121.20" x2="413.45" y2="118.60" stroke="#000" stroke-width="1.0" stroke-linecap="butt"/>
<line x1="425.07" y1="121.20" x2="425.07" y2="118.60" stroke="#000" stroke-width="1.0" stroke-linecap="butt"/>
<line x1="436.70" y1="121.20" x2="436.70" y2="118.60" stroke="#000" stroke-width="1.0" stroke-linecap="butt"/>
<line x1="448.32" y1="121.20" x2="448.32" y2="118.60" stroke="#000" stroke-width="1.0" stroke-linecap="butt"/>
<line x1="459.95" y1="121.20" x2="459.95" y2="118.60" stroke="#000" stroke-width="1.0" stroke-linecap="butt"/>
<line x1="471.57" y1="121.20" x2="471.57" y2="118.60" stroke="#000" stroke-width="1.0" stroke-linecap="butt"/>
<line x1="483.20" y1="121.20" x2="483.20" y2="118.60" stroke="#000" stroke-width="1.0" stroke-linecap="butt"/>
<line x1="494.82" y1="121.20" x2="494.82" y2="118.60" stroke="#000" stroke-width="1.0" stroke-linecap="butt"/>
<line x1="506.45" y1="121.20" x2="506.45" y2="118.60" stroke="#000" stroke-width="1.0" stroke-linecap="butt"/>
<line x1="518.08" y1="121.20" x2="518.08" y2="118.60" stroke="#000" stroke-width="1.0" stroke-linecap="butt"/>
<line x1="529.70" y1="121.20" x2="529.70" y2="118.60" stroke="#000" stroke-width="1.0" stroke-linecap="butt"/>
<line x1="390.20" y1="124.27" x2="392.80" y2="124.27" stroke="#000" stroke-width="1.0" stroke-linecap="butt"/>
<line x1="390.20" y1="111.60" x2="392.80" y2="111.60" stroke="#000" stroke-width="1.0" stroke-linecap="butt"/>
<line x1="390.20" y1="98.93" x2="392.80" y2="98.93" stroke="#000" stroke-width="1.0" stroke-linecap="butt"/>
<line x1="390.20" y1="86.25" x2="392.80" y2="86.25" stroke="#000" stroke-width="1.0" stroke-linecap="butt"/>
<line x1="390.20" y1="73.58" x2="392.80" y2="73.58" stroke="#000" stroke-width="1.0" stroke-linecap="butt"/>
<line x1="390.20" y1="60.90" x2="392.80" y2="60.90" stroke="#000" stroke-width="1.0" stroke-linecap="butt"/>
<line x1="390.20" y1="48.22" x2="392.80" y2="48.22" stroke="#000" stroke-width="1.0" stroke-linecap="butt"/>
<line x1="390.20" y1="35.55" x2="392.80" y2="35.55" stroke="#000" stroke-width="1.0" stroke-linecap="butt"/>
<line x1="390.20" y1="22.87" x2="392.80" y2="22.87" stroke="#000" stroke-width="1.0" stroke-linecap="butt"/>
<line x1="390.20" y1="10.20" x2="392.80" y2="10.20" stroke="#000" stroke-width="1.0" stroke-linecap="butt"/>
<text x="390.20" y="129.00" font-size="6.6" text-anchor="middle" fill="#505050" stroke="#505050" stroke-width="0.05">-1.0</text>
<text x="413.45" y="129.00" font-size="6.6" text-anchor="middle" fill="#505050" stroke="#505050" stroke-width="0.05">-0.5</text>
<text x="436.70" y="129.00" font-size="6.6" text-anchor="middle" fill="#505050" stroke="#505050" stroke-width="0.05">0.0</text>
<text x="459.95" y="129.00" font-size="6.6" text-anchor="middle" fill="#505050" stroke="#505050" stroke-width="0.05">0.5</text>
<text x="483.20" y="129.00" font-size="6.6" text-anchor="middle" fill="#505050" stroke="#505050" stroke-width="0.05">1.0</text>
<text x="506.45" y="129.00" font-size="6.6" text-anchor="middle" fill="#505050" stroke="#505050" stroke-width="0.05">1.5</text>
<text x="529.70" y="129.00" font-size="6.6" text-anchor="middle" fill="#505050" stroke="#505050" stroke-width="0.05">2.0</text>
<text x="386.80" y="113.70" font-size="6.6" text-anchor="end" fill="#505050" stroke="#505050" stroke-width="0.05">1.30</text>
<text x="386.80" y="88.35" font-size="6.6" text-anchor="end" fill="#505050" stroke="#505050" stroke-width="0.05">1.35</text>
<text x="386.80" y="63.00" font-size="6.6" text-anchor="end" fill="#505050" stroke="#505050" stroke-width="0.05">1.40</text>
<text x="386.80" y="37.65" font-size="6.6" text-anchor="end" fill="#505050" stroke="#505050" stroke-width="0.05">1.45</text>
<text x="386.80" y="12.30" font-size="6.6" text-anchor="end" fill="#505050" stroke="#505050" stroke-width="0.05">1.50</text>
<text x="468.80" y="139.20" font-size="9" text-anchor="middle" fill="#1c1c1c" stroke="#1c1c1c" stroke-width="0.18">Log j (mA . cm<tspan dy="-5.0" font-size="5.8">-2</tspan><tspan dy="5.0">)</tspan></text>
<text transform="translate(372.50,61.80) rotate(-90)" font-size="9.4" text-anchor="middle" fill="#1c1c1c" stroke="#1c1c1c" stroke-width="0.18">Potential (V vs. RHE)</text>
<text x="398.60" y="36.00" font-size="22" text-anchor="start" fill="#1c1c1c" stroke="#1c1c1c" stroke-width="0.18">C</text>
<line x1="407.70" y1="75.50" x2="524.90" y2="17.80" stroke="#0c8e88" stroke-width="1.6" stroke-linecap="butt"/>
<line x1="407.70" y1="85.90" x2="525.00" y2="30.30" stroke="#8206fc" stroke-width="1.6" stroke-linecap="butt"/>
<line x1="407.30" y1="111.30" x2="525.00" y2="50.80" stroke="#ff8608" stroke-width="1.6" stroke-linecap="butt"/>
<circle cx="407.70" cy="75.50" r="1.55" fill="#333" stroke="#111" stroke-width="0.7"/>
<circle cx="450.50" cy="52.20" r="1.55" fill="#333" stroke="#111" stroke-width="0.7"/>
<circle cx="492.50" cy="33.90" r="1.55" fill="#333" stroke="#111" stroke-width="0.7"/>
<circle cx="512.20" cy="24.30" r="1.55" fill="#333" stroke="#111" stroke-width="0.7"/>
<circle cx="524.90" cy="17.80" r="1.55" fill="#333" stroke="#111" stroke-width="0.7"/>
<circle cx="407.70" cy="85.90" r="1.55" fill="#333" stroke="#111" stroke-width="0.7"/>
<circle cx="450.50" cy="63.60" r="1.55" fill="#333" stroke="#111" stroke-width="0.7"/>
<circle cx="492.50" cy="45.30" r="1.55" fill="#333" stroke="#111" stroke-width="0.7"/>
<circle cx="512.30" cy="35.20" r="1.55" fill="#333" stroke="#111" stroke-width="0.7"/>
<circle cx="525.00" cy="30.30" r="1.55" fill="#333" stroke="#111" stroke-width="0.7"/>
<circle cx="407.30" cy="111.30" r="1.55" fill="#333" stroke="#111" stroke-width="0.7"/>
<circle cx="450.50" cy="90.20" r="1.55" fill="#333" stroke="#111" stroke-width="0.7"/>
<circle cx="492.50" cy="69.00" r="1.55" fill="#333" stroke="#111" stroke-width="0.7"/>
<circle cx="512.30" cy="57.30" r="1.55" fill="#333" stroke="#111" stroke-width="0.7"/>
<circle cx="525.00" cy="50.80" r="1.55" fill="#333" stroke="#111" stroke-width="0.7"/>
<text x="508.90" y="20.00" font-size="11" text-anchor="start" fill="#1c1c1c" stroke="#1c1c1c" stroke-width="0.18">a</text>
<text x="529.70" y="33.40" font-size="11" text-anchor="start" fill="#1c1c1c" stroke="#1c1c1c" stroke-width="0.18">b</text>
<text x="528.70" y="53.50" font-size="11" text-anchor="start" fill="#1c1c1c" stroke="#1c1c1c" stroke-width="0.18">c</text>
<text transform="translate(428.30,60.40) rotate(-23)" font-size="9.8" text-anchor="start" fill="#1c1c1c" stroke="#1c1c1c" stroke-width="0.18">74.4 mV dec<tspan dy="-4.3" font-size="5.8">-1</tspan></text>
<text transform="translate(439.40,82.60) rotate(-23)" font-size="9.8" text-anchor="start" fill="#1c1c1c" stroke="#1c1c1c" stroke-width="0.18">71.8 mV dec<tspan dy="-4.3" font-size="5.8">-1</tspan></text>
<text transform="translate(448.80,102.90) rotate(-23)" font-size="9.8" text-anchor="start" fill="#1c1c1c" stroke="#1c1c1c" stroke-width="0.18">66.2 mV dec<tspan dy="-4.3" font-size="5.8">-1</tspan></text>
<clipPath id="cd"><rect x="24.7" y="151.0" width="157.20000000000002" height="114.80000000000001"/></clipPath>
<rect x="24.7" y="151.0" width="157.20000000000002" height="114.80000000000001" fill="none" stroke="#000" stroke-width="1.6"/>
<line x1="37.85" y1="265.80" x2="37.85" y2="264.00" stroke="#000" stroke-width="1.0" stroke-linecap="butt"/>
<line x1="50.90" y1="265.80" x2="50.90" y2="263.00" stroke="#000" stroke-width="1.0" stroke-linecap="butt"/>
<line x1="63.95" y1="265.80" x2="63.95" y2="264.00" stroke="#000" stroke-width="1.0" stroke-linecap="butt"/>
<line x1="77.00" y1="265.80" x2="77.00" y2="263.00" stroke="#000" stroke-width="1.0" stroke-linecap="butt"/>
<line x1="90.05" y1="265.80" x2="90.05" y2="264.00" stroke="#000" stroke-width="1.0" stroke-linecap="butt"/>
<line x1="103.10" y1="265.80" x2="103.10" y2="263.00" stroke="#000" stroke-width="1.0" stroke-linecap="butt"/>
<line x1="116.15" y1="265.80" x2="116.15" y2="264.00" stroke="#000" stroke-width="1.0" stroke-linecap="butt"/>
<line x1="129.20" y1="265.80" x2="129.20" y2="263.00" stroke="#000" stroke-width="1.0" stroke-linecap="butt"/>
<line x1="142.25" y1="265.80" x2="142.25" y2="264.00" stroke="#000" stroke-width="1.0" stroke-linecap="butt"/>
<line x1="155.30" y1="265.80" x2="155.30" y2="263.00" stroke="#000" stroke-width="1.0" stroke-linecap="butt"/>
<line x1="168.35" y1="265.80" x2="168.35" y2="264.00" stroke="#000" stroke-width="1.0" stroke-linecap="butt"/>
<line x1="24.70" y1="260.70" x2="27.50" y2="260.70" stroke="#000" stroke-width="1.0" stroke-linecap="butt"/>
<line x1="24.70" y1="251.60" x2="26.50" y2="251.60" stroke="#000" stroke-width="1.0" stroke-linecap="butt"/>
<line x1="24.70" y1="242.50" x2="27.50" y2="242.50" stroke="#000" stroke-width="1.0" stroke-linecap="butt"/>
<line x1="24.70" y1="233.40" x2="26.50" y2="233.40" stroke="#000" stroke-width="1.0" stroke-linecap="butt"/>
<line x1="24.70" y1="224.30" x2="27.50" y2="224.30" stroke="#000" stroke-width="1.0" stroke-linecap="butt"/>
<line x1="24.70" y1="215.20" x2="26.50" y2="215.20" stroke="#000" stroke-width="1.0" stroke-linecap="butt"/>
<line x1="24.70" y1="206.10" x2="27.50" y2="206.10" stroke="#000" stroke-width="1.0" stroke-linecap="butt"/>
<line x1="24.70" y1="197.00" x2="26.50" y2="197.00" stroke="#000" stroke-width="1.0" stroke-linecap="butt"/>
<line x1="24.70" y1="187.90" x2="27.50" y2="187.90" stroke="#000" stroke-width="1.0" stroke-linecap="butt"/>
<line x1="24.70" y1="178.80" x2="26.50" y2="178.80" stroke="#000" stroke-width="1.0" stroke-linecap="butt"/>
<line x1="24.70" y1="169.70" x2="27.50" y2="169.70" stroke="#000" stroke-width="1.0" stroke-linecap="butt"/>
<line x1="24.70" y1="160.60" x2="26.50" y2="160.60" stroke="#000" stroke-width="1.0" stroke-linecap="butt"/>
<line x1="24.70" y1="151.50" x2="27.50" y2="151.50" stroke="#000" stroke-width="1.0" stroke-linecap="butt"/>
<text x="24.80" y="273.60" font-size="6.6" text-anchor="middle" fill="#505050" stroke="#505050" stroke-width="0.05">0</text>
<text x="50.90" y="273.60" font-size="6.6" text-anchor="middle" fill="#505050" stroke="#505050" stroke-width="0.05">5</text>
<text x="77.00" y="273.60" font-size="6.6" text-anchor="middle" fill="#505050" stroke="#505050" stroke-width="0.05">10</text>
<text x="103.10" y="273.60" font-size="6.6" text-anchor="middle" fill="#505050" stroke="#505050" stroke-width="0.05">15</text>
<text x="129.20" y="273.60" font-size="6.6" text-anchor="middle" fill="#505050" stroke="#505050" stroke-width="0.05">20</text>
<text x="155.30" y="273.60" font-size="6.6" text-anchor="middle" fill="#505050" stroke="#505050" stroke-width="0.05">25</text>
<text x="181.40" y="273.60" font-size="6.6" text-anchor="middle" fill="#505050" stroke="#505050" stroke-width="0.05">30</text>
<text x="21.40" y="262.80" font-size="6.6" text-anchor="end" fill="#505050" stroke="#505050" stroke-width="0.05">0</text>
<text x="21.40" y="244.60" font-size="6.6" text-anchor="end" fill="#505050" stroke="#505050" stroke-width="0.05">2</text>
<text x="21.40" y="226.40" font-size="6.6" text-anchor="end" fill="#505050" stroke="#505050" stroke-width="0.05">4</text>
<text x="21.40" y="208.20" font-size="6.6" text-anchor="end" fill="#505050" stroke="#505050" stroke-width="0.05">6</text>
<text x="21.40" y="190.00" font-size="6.6" text-anchor="end" fill="#505050" stroke="#505050" stroke-width="0.05">8</text>
<text x="21.40" y="171.80" font-size="6.6" text-anchor="end" fill="#505050" stroke="#505050" stroke-width="0.05">10</text>
<text x="21.40" y="153.60" font-size="6.6" text-anchor="end" fill="#505050" stroke="#505050" stroke-width="0.05">12</text>
<text x="105.90" y="283.80" font-size="9" text-anchor="middle" fill="#1c1c1c" stroke="#1c1c1c" stroke-width="0.18">Z’ (Ohm)</text>
<text transform="translate(14.00,203.80) rotate(-90)" font-size="8.6" text-anchor="middle" fill="#1c1c1c" stroke="#1c1c1c" stroke-width="0.18">Z’’ (Ohm)</text>
<text x="31.60" y="174.60" font-size="22" text-anchor="start" fill="#1c1c1c" stroke="#1c1c1c" stroke-width="0.18">D</text>
<path d="M28.50,261.00 L28.75,259.98 L29.00,258.96 L29.25,257.95 L29.49,256.93 L29.73,255.92 L29.97,254.90 L30.22,253.89 L30.46,252.87 L30.72,251.85 L30.97,250.83 L31.24,249.80 L31.52,248.77 L31.80,247.74 L32.10,246.70 L32.43,245.59 L32.77,244.47 L33.11,243.35 L33.47,242.23 L33.83,241.10 L34.20,239.97 L34.57,238.83 L34.96,237.70 L35.35,236.56 L35.75,235.41 L36.15,234.26 L36.56,233.11 L36.98,231.96 L37.40,230.80 L37.86,229.56 L38.32,228.31 L38.80,227.05 L39.28,225.79 L39.76,224.52 L40.26,223.25 L40.76,221.98 L41.27,220.70 L41.79,219.43 L42.32,218.16 L42.85,216.89 L43.39,215.62 L43.94,214.36 L44.50,213.10 L45.07,211.82 L45.65,210.52 L46.23,209.21 L46.81,207.90 L47.40,206.58 L48.00,205.27 L48.61,203.96 L49.24,202.67 L49.87,201.39 L50.52,200.14 L51.19,198.91 L51.87,197.70 L52.58,196.53 L53.30,195.40 L53.98,194.40 L54.67,193.40 L55.38,192.43 L56.10,191.47 L56.84,190.52 L57.59,189.60 L58.35,188.69 L59.12,187.80 L59.90,186.94 L60.69,186.10 L61.48,185.29 L62.28,184.50 L63.09,183.73 L63.90,183.00 L64.63,182.37 L65.36,181.76 L66.10,181.17 L66.85,180.60 L67.60,180.05 L68.36,179.52 L69.13,179.00 L69.90,178.51 L70.68,178.03 L71.46,177.57 L72.24,177.13 L73.02,176.70 L73.81,176.29 L74.60,175.90 L75.34,175.55 L76.08,175.22 L76.83,174.91 L77.58,174.61 L78.33,174.33 L79.09,174.06 L79.85,173.81 L80.61,173.57 L81.37,173.35 L82.14,173.14 L82.90,172.94 L83.67,172.75 L84.43,172.57 L85.20,172.40 L85.96,172.25 L86.74,172.11 L87.53,171.99 L88.33,171.88 L89.13,171.78 L89.93,171.69 L90.73,171.61 L91.52,171.55 L92.29,171.49 L93.05,171.44 L93.78,171.40 L94.49,171.36 L95.16,171.33 L95.80,171.30 L96.21,171.28 L96.60,171.26 L96.96,171.24 L97.31,171.23 L97.65,171.21 L97.98,171.20 L98.31,171.20 L98.63,171.20 L98.96,171.20 L99.30,171.22 L99.65,171.25 L100.01,171.29 L100.39,171.34 L100.80,171.40 L101.45,171.52 L102.14,171.66 L102.87,171.82 L103.62,172.00 L104.40,172.20 L105.20,172.42 L106.01,172.66 L106.83,172.93 L107.65,173.21 L108.46,173.51 L109.27,173.83 L110.07,174.17 L110.85,174.52 L111.60,174.90 L112.40,175.33 L113.20,175.80 L114.00,176.29 L114.79,176.81 L115.57,177.35 L116.35,177.91 L117.12,178.50 L117.89,179.10 L118.65,179.72 L119.41,180.35 L120.16,181.00 L120.91,181.66 L121.66,182.32 L122.40,183.00 L123.21,183.76 L124.01,184.54 L124.80,185.34 L125.58,186.16 L126.36,187.00 L127.14,187.85 L127.91,188.73 L128.67,189.61 L129.43,190.51 L130.19,191.41 L130.95,192.33 L131.70,193.25 L132.45,194.17 L133.20,195.10 L134.00,196.10 L134.80,197.12 L135.60,198.16 L136.40,199.22 L137.19,200.28 L137.99,201.36 L138.77,202.44 L139.55,203.53 L140.32,204.62 L141.08,205.71 L141.83,206.79 L142.57,207.87 L143.29,208.94 L144.00,210.00 L144.65,210.98 L145.29,211.98 L145.93,212.99 L146.56,214.01 L147.18,215.03 L147.79,216.04 L148.39,217.05 L148.99,218.05 L149.56,219.03 L150.12,219.98 L150.67,220.91 L151.20,221.81 L151.71,222.68 L152.20,223.50 L152.53,224.06 L152.85,224.59 L153.16,225.11 L153.45,225.61 L153.74,226.10 L154.02,226.57 L154.29,227.04 L154.56,227.50 L154.83,227.96 L155.10,228.42 L155.37,228.88 L155.64,229.35 L155.92,229.82 L156.20,230.30" fill="none" stroke="#8206fc" stroke-width="1.6" stroke-linejoin="round" stroke-linecap="round"/>
<path d="M28.50,261.00 L28.75,260.49 L29.00,259.99 L29.25,259.50 L29.49,259.01 L29.74,258.53 L29.98,258.04 L30.22,257.55 L30.47,257.06 L30.72,256.55 L30.98,256.03 L31.25,255.50 L31.52,254.96 L31.81,254.39 L32.10,253.80 L32.53,252.93 L32.97,252.02 L33.42,251.08 L33.88,250.10 L34.36,249.09 L34.85,248.06 L35.35,247.02 L35.86,245.96 L36.39,244.89 L36.92,243.82 L37.47,242.75 L38.04,241.68 L38.61,240.63 L39.20,239.60 L39.86,238.47 L40.55,237.32 L41.25,236.15 L41.98,234.98 L42.72,233.80 L43.47,232.62 L44.24,231.45 L45.02,230.29 L45.80,229.13 L46.60,228.00 L47.39,226.88 L48.20,225.79 L49.00,224.73 L49.80,223.70 L50.52,222.79 L51.25,221.88 L51.97,220.97 L52.70,220.08 L53.44,219.19 L54.18,218.32 L54.93,217.47 L55.68,216.64 L56.44,215.85 L57.21,215.08 L57.99,214.35 L58.78,213.65 L59.59,213.00 L60.40,212.40 L61.12,211.91 L61.85,211.46 L62.59,211.03 L63.35,210.62 L64.11,210.24 L64.88,209.88 L65.65,209.55 L66.42,209.24 L67.20,208.95 L67.97,208.68 L68.74,208.43 L69.50,208.20 L70.26,207.99 L71.00,207.80 L71.65,207.65 L72.29,207.51 L72.92,207.39 L73.55,207.29 L74.18,207.20 L74.81,207.13 L75.43,207.08 L76.06,207.04 L76.69,207.01 L77.32,207.00 L77.96,207.01 L78.60,207.02 L79.24,207.06 L79.90,207.10 L80.64,207.16 L81.39,207.24 L82.16,207.34 L82.94,207.45 L83.73,207.58 L84.52,207.73 L85.31,207.90 L86.09,208.08 L86.87,208.29 L87.64,208.51 L88.38,208.75 L89.11,209.01 L89.82,209.30 L90.50,209.60 L91.11,209.91 L91.71,210.24 L92.29,210.60 L92.86,210.98 L93.41,211.38 L93.96,211.80 L94.49,212.23 L95.02,212.67 L95.54,213.12 L96.05,213.57 L96.57,214.03 L97.08,214.49 L97.59,214.95 L98.10,215.40 L98.62,215.86 L99.17,216.33 L99.72,216.82 L100.27,217.32 L100.83,217.83 L101.38,218.33 L101.91,218.84 L102.43,219.35 L102.93,219.86 L103.40,220.35 L103.84,220.84 L104.24,221.31 L104.59,221.76 L104.90,222.20 L105.06,222.46 L105.20,222.70 L105.32,222.95 L105.43,223.19 L105.52,223.42 L105.61,223.66 L105.68,223.89 L105.76,224.12 L105.82,224.35 L105.89,224.58 L105.96,224.80 L106.03,225.03 L106.11,225.27 L106.20,225.50" fill="none" stroke="#0c8e88" stroke-width="1.6" stroke-linejoin="round" stroke-linecap="round"/>
<path d="M28.50,261.00 L28.75,260.24 L29.00,259.48 L29.23,258.73 L29.46,257.98 L29.70,257.23 L29.93,256.48 L30.16,255.72 L30.40,254.97 L30.65,254.21 L30.91,253.44 L31.18,252.67 L31.47,251.89 L31.78,251.10 L32.10,250.30 L32.51,249.33 L32.95,248.34 L33.40,247.32 L33.88,246.29 L34.38,245.25 L34.89,244.20 L35.41,243.15 L35.94,242.10 L36.48,241.06 L37.03,240.02 L37.57,239.01 L38.12,238.01 L38.66,237.04 L39.20,236.10 L39.67,235.27 L40.14,234.46 L40.60,233.64 L41.05,232.84 L41.51,232.05 L41.98,231.26 L42.45,230.49 L42.93,229.73 L43.42,228.99 L43.93,228.26 L44.46,227.54 L45.01,226.84 L45.59,226.16 L46.20,225.50 L46.85,224.83 L47.53,224.17 L48.24,223.52 L48.96,222.87 L49.71,222.24 L50.48,221.62 L51.26,221.03 L52.05,220.46 L52.85,219.91 L53.66,219.39 L54.47,218.91 L55.28,218.47 L56.09,218.06 L56.90,217.70 L57.63,217.41 L58.37,217.15 L59.11,216.91 L59.86,216.70 L60.62,216.52 L61.38,216.36 L62.15,216.22 L62.91,216.11 L63.68,216.02 L64.45,215.96 L65.22,215.91 L65.98,215.89 L66.74,215.89 L67.50,215.90 L68.26,215.94 L69.02,216.00 L69.79,216.08 L70.56,216.19 L71.32,216.31 L72.09,216.46 L72.85,216.64 L73.61,216.83 L74.37,217.04 L75.13,217.28 L75.88,217.53 L76.63,217.80 L77.37,218.09 L78.10,218.40 L78.89,218.77 L79.69,219.19 L80.50,219.65 L81.30,220.15 L82.11,220.67 L82.90,221.22 L83.69,221.78 L84.47,222.34 L85.23,222.91 L85.97,223.47 L86.69,224.02 L87.39,224.54 L88.06,225.04 L88.70,225.50 L89.14,225.81 L89.57,226.12 L89.99,226.41 L90.40,226.70 L90.80,226.98 L91.18,227.25 L91.56,227.52 L91.93,227.80 L92.29,228.07 L92.64,228.34 L92.99,228.62 L93.33,228.91 L93.67,229.20 L94.00,229.50 L94.29,229.78 L94.57,230.06 L94.85,230.35 L95.11,230.64 L95.37,230.93 L95.62,231.23 L95.87,231.52 L96.12,231.82 L96.36,232.12 L96.60,232.42 L96.85,232.71 L97.10,233.01 L97.35,233.31 L97.60,233.60" fill="none" stroke="#ff8608" stroke-width="1.6" stroke-linejoin="round" stroke-linecap="round"/>
<path d="M28.50,261.00 L28.63,260.82 L28.75,260.64 L28.87,260.47 L28.98,260.29 L29.10,260.12 L29.22,259.95 L29.34,259.78 L29.46,259.60 L29.58,259.42 L29.71,259.23 L29.85,259.04 L29.99,258.84 L30.14,258.62 L30.30,258.40 L30.59,258.00 L30.90,257.56 L31.22,257.10 L31.57,256.61 L31.93,256.10 L32.30,255.58 L32.69,255.04 L33.09,254.49 L33.49,253.95 L33.91,253.40 L34.32,252.86 L34.75,252.32 L35.17,251.80 L35.60,251.30 L36.06,250.77 L36.52,250.22 L36.99,249.67 L37.47,249.11 L37.96,248.56 L38.46,248.00 L38.96,247.46 L39.47,246.92 L39.99,246.41 L40.51,245.91 L41.05,245.43 L41.59,244.99 L42.14,244.58 L42.70,244.20 L43.22,243.88 L43.76,243.56 L44.31,243.25 L44.88,242.96 L45.45,242.68 L46.03,242.42 L46.61,242.18 L47.19,241.97 L47.77,241.78 L48.34,241.63 L48.90,241.51 L49.45,241.43 L49.98,241.39 L50.50,241.40 L50.94,241.44 L51.37,241.52 L51.80,241.63 L52.23,241.76 L52.65,241.93 L53.06,242.11 L53.47,242.32 L53.87,242.55 L54.27,242.79 L54.65,243.05 L55.03,243.33 L55.40,243.61 L55.75,243.90 L56.10,244.20 L56.47,244.55 L56.82,244.93 L57.15,245.34 L57.48,245.78 L57.78,246.23 L58.08,246.70 L58.38,247.18 L58.66,247.68 L58.95,248.17 L59.23,248.67 L59.51,249.17 L59.80,249.66 L60.10,250.13 L60.40,250.60" fill="none" stroke="#000" stroke-width="1.6" stroke-linejoin="round" stroke-linecap="round"/>
<text x="156.20" y="226.80" font-size="11" text-anchor="start" fill="#1c1c1c" stroke="#1c1c1c" stroke-width="0.18">a</text>
<text x="106.20" y="224.90" font-size="11" text-anchor="start" fill="#1c1c1c" stroke="#1c1c1c" stroke-width="0.18">b</text>
<text x="85.30" y="236.80" font-size="11" text-anchor="start" fill="#1c1c1c" stroke="#1c1c1c" stroke-width="0.18">c</text>
<text x="60.40" y="258.50" font-size="11" text-anchor="start" fill="#1c1c1c" stroke="#1c1c1c" stroke-width="0.18">d</text>
<polyline points="88.60,246.60 104.00,246.60 105.42,244.30 108.25,248.90 111.08,244.30 113.92,248.90 116.75,244.30 119.58,248.90 121.00,246.60 141.00,246.60 142.36,244.30 145.07,248.90 147.79,244.30 150.51,248.90 153.23,244.30 155.94,248.90 157.30,246.60 177.40,246.60" fill="none" stroke="#222" stroke-width="0.8"/>
<polyline points="136,246.6 136,258.6 166.3,258.6 166.3,246.6" fill="none" stroke="#222" stroke-width="0.8"/>
<polyline points="147.4,256.4 150.6,258.6 147.4,260.8" fill="none" stroke="#222" stroke-width="1"/>
<polyline points="151.6,256.4 154.8,258.6 151.6,260.8" fill="none" stroke="#222" stroke-width="1"/>
<circle cx="136" cy="246.6" r="1.7" fill="#000"/>
<text x="112.40" y="242.40" font-size="4.6" text-anchor="middle" fill="#333" stroke="#333" stroke-width="0.18" font-family="Liberation Sans, sans-serif" font-weight="bold">Rs</text>
<text x="151.60" y="242.40" font-size="4.6" text-anchor="middle" fill="#333" stroke="#333" stroke-width="0.18" font-family="Liberation Sans, sans-serif" font-weight="bold">Rct</text>
<text x="151.10" y="255.80" font-size="4.6" text-anchor="middle" fill="#333" stroke="#333" stroke-width="0.18" font-family="Liberation Sans, sans-serif" font-weight="bold">CPE1</text>
<clipPath id="ce"><rect x="208.8" y="153.0" width="143.59999999999997" height="115.0"/></clipPath>
<rect x="208.8" y="153.0" width="143.59999999999997" height="115.0" fill="none" stroke="#000" stroke-width="1.6"/>
<line x1="216.00" y1="268.00" x2="216.00" y2="265.40" stroke="#000" stroke-width="1.0" stroke-linecap="butt"/>
<line x1="231.16" y1="268.00" x2="231.16" y2="265.40" stroke="#000" stroke-width="1.0" stroke-linecap="butt"/>
<line x1="246.33" y1="268.00" x2="246.33" y2="265.40" stroke="#000" stroke-width="1.0" stroke-linecap="butt"/>
<line x1="261.50" y1="268.00" x2="261.50" y2="265.40" stroke="#000" stroke-width="1.0" stroke-linecap="butt"/>
<line x1="276.66" y1="268.00" x2="276.66" y2="265.40" stroke="#000" stroke-width="1.0" stroke-linecap="butt"/>
<line x1="291.82" y1="268.00" x2="291.82" y2="265.40" stroke="#000" stroke-width="1.0" stroke-linecap="butt"/>
<line x1="306.99" y1="268.00" x2="306.99" y2="265.40" stroke="#000" stroke-width="1.0" stroke-linecap="butt"/>
<line x1="322.15" y1="268.00" x2="322.15" y2="265.40" stroke="#000" stroke-width="1.0" stroke-linecap="butt"/>
<line x1="337.32" y1="268.00" x2="337.32" y2="265.40" stroke="#000" stroke-width="1.0" stroke-linecap="butt"/>
<line x1="208.80" y1="267.60" x2="211.40" y2="267.60" stroke="#000" stroke-width="1.0" stroke-linecap="butt"/>
<line x1="208.80" y1="256.15" x2="211.40" y2="256.15" stroke="#000" stroke-width="1.0" stroke-linecap="butt"/>
<line x1="208.80" y1="244.70" x2="211.40" y2="244.70" stroke="#000" stroke-width="1.0" stroke-linecap="butt"/>
<line x1="208.80" y1="233.25" x2="211.40" y2="233.25" stroke="#000" stroke-width="1.0" stroke-linecap="butt"/>
<line x1="208.80" y1="221.80" x2="211.40" y2="221.80" stroke="#000" stroke-width="1.0" stroke-linecap="butt"/>
<line x1="208.80" y1="210.35" x2="211.40" y2="210.35" stroke="#000" stroke-width="1.0" stroke-linecap="butt"/>
<line x1="208.80" y1="198.90" x2="211.40" y2="198.90" stroke="#000" stroke-width="1.0" stroke-linecap="butt"/>
<line x1="208.80" y1="187.45" x2="211.40" y2="187.45" stroke="#000" stroke-width="1.0" stroke-linecap="butt"/>
<line x1="208.80" y1="176.00" x2="211.40" y2="176.00" stroke="#000" stroke-width="1.0" stroke-linecap="butt"/>
<line x1="208.80" y1="164.55" x2="211.40" y2="164.55" stroke="#000" stroke-width="1.0" stroke-linecap="butt"/>
<line x1="208.80" y1="153.10" x2="211.40" y2="153.10" stroke="#000" stroke-width="1.0" stroke-linecap="butt"/>
<text x="216.00" y="275.50" font-size="6.6" text-anchor="middle" fill="#505050" stroke="#505050" stroke-width="0.05">20</text>
<text x="246.33" y="275.50" font-size="6.6" text-anchor="middle" fill="#505050" stroke="#505050" stroke-width="0.05">40</text>
<text x="276.66" y="275.50" font-size="6.6" text-anchor="middle" fill="#505050" stroke="#505050" stroke-width="0.05">60</text>
<text x="306.99" y="275.50" font-size="6.6" text-anchor="middle" fill="#505050" stroke="#505050" stroke-width="0.05">80</text>
<text x="337.32" y="275.50" font-size="6.6" text-anchor="middle" fill="#505050" stroke="#505050" stroke-width="0.05">100</text>
<text x="205.40" y="269.70" font-size="6.6" text-anchor="end" fill="#505050" stroke="#505050" stroke-width="0.05">0</text>
<text x="205.40" y="246.80" font-size="6.6" text-anchor="end" fill="#505050" stroke="#505050" stroke-width="0.05">1</text>
<text x="205.40" y="223.90" font-size="6.6" text-anchor="end" fill="#505050" stroke="#505050" stroke-width="0.05">2</text>
<text x="205.40" y="201.00" font-size="6.6" text-anchor="end" fill="#505050" stroke="#505050" stroke-width="0.05">3</text>
<text x="205.40" y="178.10" font-size="6.6" text-anchor="end" fill="#505050" stroke="#505050" stroke-width="0.05">4</text>
<text x="205.40" y="155.20" font-size="6.6" text-anchor="end" fill="#505050" stroke="#505050" stroke-width="0.05">5</text>
<text x="282.50" y="290.30" font-size="9" text-anchor="middle" fill="#1c1c1c" stroke="#1c1c1c" stroke-width="0.18">Scan Rate (mV . s<tspan dy="-5.0" font-size="5.8">-1</tspan><tspan dy="5.0">)</tspan></text>
<text transform="translate(197.60,206.50) rotate(-90)" font-size="9.2" text-anchor="middle" fill="#1c1c1c" stroke="#1c1c1c" stroke-width="0.18">Δ j (mA cm<tspan dy="-5.0" font-size="5.8">-2</tspan><tspan dy="5.0">)</tspan></text>
<text x="215.80" y="177.00" font-size="22" text-anchor="start" fill="#1c1c1c" stroke="#1c1c1c" stroke-width="0.18">E</text>
<line x1="216.00" y1="218.71" x2="337.32" y2="162.28" stroke="#000" stroke-width="1.6" stroke-linecap="butt"/>
<line x1="216.00" y1="256.91" x2="337.32" y2="233.00" stroke="#ff8608" stroke-width="1.6" stroke-linecap="butt"/>
<line x1="216.00" y1="265.08" x2="337.32" y2="260.26" stroke="#0c8e88" stroke-width="1.6" stroke-linecap="butt"/>
<line x1="216.00" y1="266.46" x2="337.32" y2="263.93" stroke="#8a9216" stroke-width="1.6" stroke-linecap="butt"/>
<circle cx="216.00" cy="218.71" r="1.7" fill="#a31a1a" stroke="#5a0808" stroke-width="0.6"/>
<circle cx="246.33" cy="204.60" r="1.7" fill="#a31a1a" stroke="#5a0808" stroke-width="0.6"/>
<circle cx="276.66" cy="190.50" r="1.7" fill="#a31a1a" stroke="#5a0808" stroke-width="0.6"/>
<circle cx="306.99" cy="176.39" r="1.7" fill="#a31a1a" stroke="#5a0808" stroke-width="0.6"/>
<circle cx="337.32" cy="162.28" r="1.7" fill="#a31a1a" stroke="#5a0808" stroke-width="0.6"/>
<circle cx="216.00" cy="256.91" r="1.7" fill="#a31a1a" stroke="#5a0808" stroke-width="0.6"/>
<circle cx="246.33" cy="250.93" r="1.7" fill="#a31a1a" stroke="#5a0808" stroke-width="0.6"/>
<circle cx="276.66" cy="244.95" r="1.7" fill="#a31a1a" stroke="#5a0808" stroke-width="0.6"/>
<circle cx="306.99" cy="238.98" r="1.7" fill="#a31a1a" stroke="#5a0808" stroke-width="0.6"/>
<circle cx="337.32" cy="233.00" r="1.7" fill="#a31a1a" stroke="#5a0808" stroke-width="0.6"/>
<circle cx="216.00" cy="265.08" r="1.7" fill="#a31a1a" stroke="#5a0808" stroke-width="0.6"/>
<circle cx="246.33" cy="263.88" r="1.7" fill="#a31a1a" stroke="#5a0808" stroke-width="0.6"/>
<circle cx="276.66" cy="262.67" r="1.7" fill="#a31a1a" stroke="#5a0808" stroke-width="0.6"/>
<circle cx="306.99" cy="261.47" r="1.7" fill="#a31a1a" stroke="#5a0808" stroke-width="0.6"/>
<circle cx="337.32" cy="260.26" r="1.7" fill="#a31a1a" stroke="#5a0808" stroke-width="0.6"/>
<circle cx="216.00" cy="266.46" r="1.7" fill="#a31a1a" stroke="#5a0808" stroke-width="0.6"/>
<circle cx="246.33" cy="265.82" r="1.7" fill="#a31a1a" stroke="#5a0808" stroke-width="0.6"/>
<circle cx="276.66" cy="265.19" r="1.7" fill="#a31a1a" stroke="#5a0808" stroke-width="0.6"/>
<circle cx="306.99" cy="264.56" r="1.7" fill="#a31a1a" stroke="#5a0808" stroke-width="0.6"/>
<circle cx="337.32" cy="263.93" r="1.7" fill="#a31a1a" stroke="#5a0808" stroke-width="0.6"/>
<text x="342.50" y="165.00" font-size="11" text-anchor="start" fill="#1c1c1c" stroke="#1c1c1c" stroke-width="0.18">d</text>
<text x="343.00" y="235.60" font-size="11" text-anchor="start" fill="#1c1c1c" stroke="#1c1c1c" stroke-width="0.18">c</text>
<text x="344.00" y="258.50" font-size="11" text-anchor="start" fill="#1c1c1c" stroke="#1c1c1c" stroke-width="0.18">b</text>
<text x="344.00" y="265.00" font-size="11" text-anchor="start" fill="#1c1c1c" stroke="#1c1c1c" stroke-width="0.18">a</text>
<text transform="translate(251.40,194.40) rotate(-23.3)" font-size="9.8" text-anchor="start" fill="#1c1c1c" stroke="#1c1c1c" stroke-width="0.18">30.74 mF cm<tspan dy="-4.2" font-size="6">-2</tspan></text>
<text transform="translate(260.80,242.60) rotate(-11.8)" font-size="9.7" text-anchor="start" fill="#1c1c1c" stroke="#1c1c1c" stroke-width="0.18">13.34 mF cm<tspan dy="-4.2" font-size="6">-2</tspan></text>
<text transform="translate(260.80,259.30) rotate(-2.5)" font-size="9.9" text-anchor="start" fill="#1c1c1c" stroke="#1c1c1c" stroke-width="0.18">3.06 mF cm<tspan dy="-4.2" font-size="6">-2</tspan></text>
</svg>
</body></html>
